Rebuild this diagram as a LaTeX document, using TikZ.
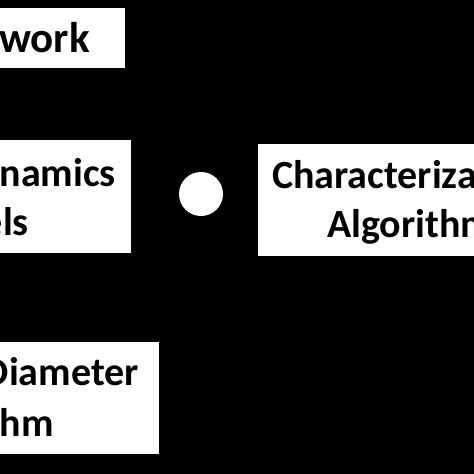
\documentclass[tikz,border=0pt]{standalone}
\usepackage{fontspec}
\setmainfont{Carlito}
\begin{document}
\begin{tikzpicture}[x=1pt,y=-1pt,
  box/.style={fill=white,draw=none},
  lbl/.style={font=\bfseries\fontsize{40}{48}\selectfont,inner sep=0pt,text=black},
  lblbig/.style={font=\bfseries\fontsize{43}{52}\selectfont,inner sep=0pt,text=black}]
\useasboundingbox (0,0) rectangle (474,474);
\fill[black] (0,0) rectangle (474,474);
\clip (0,0) rectangle (474,474);
\fill[box] (-10,8) rectangle (125,68);
\fill[box] (-10,140) rectangle (131,253);
\fill[box] (258,144) rectangle (490,256);
\fill[box] (-10,342) rectangle (159,454);
\node[circle,fill=white,minimum size=44pt,inner sep=0pt] (dot) at (201,194) {};
\node[lblbig,anchor=base east] (t1) at (90,52) {work};
\node[lbl,anchor=base east] (m1) at (116,186) {namics};
\node[lbl,anchor=base east] (m2) at (29,235) {els};
\node[lbl,anchor=base west] (r1) at (272,188) {Characterization};
\node[lbl,anchor=base west] (r2) at (327,237) {Algorithm};
\node[lbl,anchor=base east] (b1) at (139,385) {Diameter};
\node[lbl,anchor=base east] (b2) at (54,436) {hm};
\end{tikzpicture}
\end{document}
